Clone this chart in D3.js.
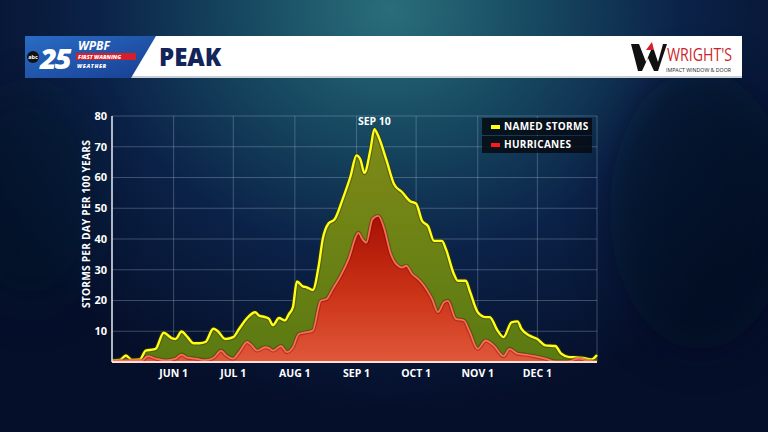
<!DOCTYPE html>
<html>
<head>
<meta charset="utf-8">
<script src="https://cdn.jsdelivr.net/npm/d3@7"></script>
<style>
  html, body { margin: 0; padding: 0; background: #061230; }
  #mydiv { width: 768px; height: 432px; overflow: hidden; }
  text { font-family: "Open Sans", "DejaVu Sans", sans-serif; }
</style>
</head>
<body>
<div id="mydiv"></div>
<script>
// named storms per day per 100 years
var namedDates = ["05-01","05-05","05-08","05-11","05-15","05-18","05-22","05-23","05-27","05-31",
  "06-02","06-05","06-08","06-11","06-14","06-17","06-21","06-23","06-27",
  "07-01","07-04","07-08","07-12","07-14","07-17","07-19","07-21","07-24","07-27","07-29","07-31",
  "08-02","08-05","08-07","08-10","08-13","08-15","08-18","08-21","08-25","08-29",
  "09-01","09-03","09-05","09-08","09-10","09-12","09-16","09-20","09-24","09-28",
  "10-01","10-04","10-07","10-10","10-14","10-16","10-20","10-22","10-26","10-28",
  "11-01","11-05","11-07","11-11","11-14","11-18","11-21","11-23","11-27",
  "12-01","12-05","12-10","12-13","12-17","12-21","12-24","12-28","12-31"];
var namedValues = [0.5,0.7,2.1,0.7,0.8,3.7,4.1,4.3,9.5,7.8,
  7.5,9.9,8.1,6.1,6.1,6.5,10.8,10.2,7.5,
  8.1,10.8,14.3,16.2,15.1,14.6,14.0,12.0,14.3,13.5,15.6,17.8,
  26.2,24.6,24.3,23.4,31.3,39.9,45.1,46.4,52.9,60.4,
  67.2,65.8,61.5,69.0,75.7,73.4,65.8,57.7,55.2,52.3,
  51.5,45.9,44.2,39.4,39.4,36.7,28.6,26.4,26.4,23.1,
  16.2,14.6,14.6,10.2,8.1,12.9,13.2,10.8,8.6,
  7.5,5.4,5.2,2.7,1.6,1.5,1.3,0.8,2.3];

// hurricanes per day per 100 years
var hurDates = ["05-01","05-08","05-16","05-19","05-23","05-28",
  "06-02","06-05","06-08","06-12","06-17","06-21","06-25","06-27",
  "07-01","07-04","07-08","07-10","07-13","07-17","07-19","07-21","07-25","07-28","07-31",
  "08-03","08-07","08-10","08-14","08-17","08-20","08-24","08-28",
  "09-02","09-04","09-06","09-09","09-12","09-15","09-18","09-21","09-24","09-26","09-29",
  "10-02","10-05","10-09","10-12","10-15","10-17","10-21","10-25","10-28",
  "11-01","11-05","11-09","11-14","11-17","11-21","11-25","11-30",
  "12-05","12-10","12-16","12-22","12-26","12-31"];
var hurValues = [0.3,0.5,0.5,1.9,1.1,0.5,
  1.1,2.4,1.4,1.1,0.6,1.3,3.7,2.4,
  1.1,3.2,6.5,5.6,3.7,4.8,4.5,3.7,5.2,3.2,4.8,
  9.1,9.7,10.2,19.9,20.5,23.7,28.0,33.4,
  42.0,39.9,38.8,46.4,47.5,43.2,35.6,31.8,30.7,31.3,28.6,
  27.0,24.8,20.5,16.2,19.4,19.9,14.0,13.5,9.7,
  4.3,7.0,5.4,1.9,4.3,2.7,2.4,1.8,
  1.1,0.2,0.2,1.1,0.4,0.2];

var monthTicks = ["06-01","07-01","08-01","09-01","10-01","11-01","12-01"];
var yTicks = [10,20,30,40,50,60,70,80];
var peakDate = "09-10";
var peakLabel = "SEP 10";
var legendNames = ["NAMED STORMS","HURRICANES"];
var legendColors = ["#ffff1a","#ff1a1a"];

var W = 768, H = 432;
var parse = d3.timeParse("%Y-%m-%d");
function dt(s) { return parse("2023-" + s); }

var svg = d3.select("#mydiv").append("svg")
  .attr("width", W).attr("height", H);
var defs = svg.append("defs");

// background glow
var bg = defs.append("radialGradient").attr("id", "bg")
  .attr("gradientUnits", "userSpaceOnUse")
  .attr("cx", 390).attr("cy", 10).attr("r", 470)
  .attr("gradientTransform", "translate(390,10) scale(1,0.85) translate(-390,-10)");
bg.append("stop").attr("offset", "0%").attr("stop-color", "#2a6e7a");
bg.append("stop").attr("offset", "30%").attr("stop-color", "#174a62");
bg.append("stop").attr("offset", "62%").attr("stop-color", "#0b2248");
bg.append("stop").attr("offset", "100%").attr("stop-color", "#050f2a");
svg.append("rect").attr("width", W).attr("height", H).attr("fill", "url(#bg)");

// dark tree shapes on the sides, blurred
var blur = defs.append("filter").attr("id", "blur")
  .attr("x", "-50%").attr("y", "-50%").attr("width", "200%").attr("height", "200%");
blur.append("feGaussianBlur").attr("stdDeviation", 22);
svg.append("ellipse").attr("cx", 700).attr("cy", 210).attr("rx", 90).attr("ry", 140)
  .attr("fill", "#030a1c").attr("opacity", 0.5).attr("filter", "url(#blur)");
svg.append("ellipse").attr("cx", 30).attr("cy", 200).attr("rx", 70).attr("ry", 110)
  .attr("fill", "#061426").attr("opacity", 0.35).attr("filter", "url(#blur)");

var olive = defs.append("linearGradient").attr("id", "olive")
  .attr("x1", 0).attr("y1", 0).attr("x2", 0).attr("y2", 1);
olive.append("stop").attr("offset", "0%").attr("stop-color", "#7f8a18");
olive.append("stop").attr("offset", "100%").attr("stop-color", "#5a7a12");

var redg = defs.append("linearGradient").attr("id", "redg")
  .attr("x1", 0).attr("y1", 0).attr("x2", 0).attr("y2", 1);
redg.append("stop").attr("offset", "0%").attr("stop-color", "#a81004");
redg.append("stop").attr("offset", "55%").attr("stop-color", "#cc3418");
redg.append("stop").attr("offset", "100%").attr("stop-color", "#e0583a");

var margin = {top: 116, right: 171, bottom: 70, left: 112};
var width = W - margin.left - margin.right,
    height = H - margin.top - margin.bottom;

var x = d3.scaleTime().domain([dt("05-01"), dt("12-31")]).range([0, width]);
var y = d3.scaleLinear().domain([0, 80]).range([height, 0]);

var g = svg.append("g")
  .attr("transform", "translate(" + margin.left + "," + margin.top + ")");

// grid
g.selectAll(".hgrid").data(yTicks).enter().append("line")
  .attr("x1", 0).attr("x2", width)
  .attr("y1", function(d) { return y(d); }).attr("y2", function(d) { return y(d); })
  .attr("stroke", "#9fb4c8").attr("stroke-opacity", 0.35).attr("stroke-width", 1);
g.selectAll(".vgrid").data(monthTicks.concat(["12-31"])).enter().append("line")
  .attr("x1", function(d) { return x(dt(d)); }).attr("x2", function(d) { return x(dt(d)); })
  .attr("y1", 0).attr("y2", height)
  .attr("stroke", "#9fb4c8").attr("stroke-opacity", 0.35).attr("stroke-width", 1);

var named = namedDates.map(function(d, i) { return {date: dt(d), v: namedValues[i]}; });
var hur = hurDates.map(function(d, i) { return {date: dt(d), v: hurValues[i]}; });

var area = d3.area().curve(d3.curveMonotoneX)
  .x(function(d) { return x(d.date); }).y0(height).y1(function(d) { return y(d.v); });
var line = d3.line().curve(d3.curveMonotoneX)
  .x(function(d) { return x(d.date); }).y(function(d) { return y(d.v); });

g.append("path").datum(named).attr("d", area).attr("fill", "url(#olive)");
g.append("path").datum(named).attr("d", line).attr("fill", "none")
  .attr("stroke", "#3a3a00").attr("stroke-opacity", 0.5).attr("stroke-width", 4.5);
g.append("path").datum(named).attr("d", line).attr("fill", "none")
  .attr("stroke", "#ffff1a").attr("stroke-width", 2.4).attr("stroke-linejoin", "round");

g.append("path").datum(hur).attr("d", area).attr("fill", "url(#redg)");
g.append("path").datum(hur).attr("d", line).attr("fill", "none")
  .attr("stroke", "#5a0a00").attr("stroke-opacity", 0.35).attr("stroke-width", 4);
g.append("path").datum(hur).attr("d", line).attr("fill", "none")
  .attr("stroke", "#ff6a5a").attr("stroke-width", 1.8).attr("stroke-linejoin", "round");

// axes lines
g.append("line").attr("x1", 0).attr("x2", 0).attr("y1", 0).attr("y2", height)
  .attr("stroke", "#e8eef5").attr("stroke-width", 1.5);
g.append("line").attr("x1", 0).attr("x2", width).attr("y1", height).attr("y2", height)
  .attr("stroke", "#ffe0d8").attr("stroke-width", 2);

// y labels
g.selectAll(".ylab").data(yTicks).enter().append("text")
  .attr("x", -5).attr("y", function(d) { return y(d); })
  .attr("dy", "0.35em").attr("text-anchor", "end")
  .attr("fill", "#ffffff").attr("font-size", 11).attr("font-weight", 700)
  .text(function(d) { return d; });

// x labels
var fmt = d3.timeFormat("%b %-d");
g.selectAll(".xlab").data(monthTicks).enter().append("text")
  .attr("x", function(d) { return x(dt(d)); }).attr("y", height + 15)
  .attr("text-anchor", "middle")
  .attr("fill", "#ffffff").attr("font-size", 10.5).attr("font-weight", 700)
  .text(function(d) { return fmt(dt(d)).toUpperCase(); });

// y title
svg.append("text")
  .attr("transform", "translate(90," + (margin.top + height / 2 - 15) + ") rotate(-90)")
  .attr("text-anchor", "middle")
  .attr("fill", "#ffffff").attr("font-size", 10.2).attr("font-weight", 700)
  .attr("letter-spacing", 0.2)
  .text("STORMS PER DAY PER 100 YEARS");

// peak label
g.append("text").attr("x", x(dt(peakDate))).attr("y", 9)
  .attr("text-anchor", "middle")
  .attr("fill", "#ffffff").attr("font-size", 10.5).attr("font-weight", 700)
  .text(peakLabel);

// legend
var leg = svg.append("g").attr("transform", "translate(482,118)");
legendNames.forEach(function(name, i) {
  var row = leg.append("g").attr("transform", "translate(0," + (i * 18) + ")");
  row.append("rect").attr("width", 110).attr("height", 17)
    .attr("fill", "#05080f").attr("opacity", 0.82);
  row.append("rect").attr("x", 9).attr("y", 7).attr("width", 9).attr("height", 4)
    .attr("fill", legendColors[i]);
  row.append("text").attr("x", 22).attr("y", 8.5).attr("dy", "0.35em")
    .attr("fill", "#ffffff").attr("font-size", 10).attr("font-weight", 700)
    .attr("letter-spacing", 0.3)
    .text(name);
});

// header bar
svg.append("rect").attr("x", 25).attr("y", 36).attr("width", 717).attr("height", 42)
  .attr("fill", "#ffffff");
svg.append("rect").attr("x", 25).attr("y", 76).attr("width", 717).attr("height", 2)
  .attr("fill", "#c9ced6");
var blue = defs.append("linearGradient").attr("id", "blue")
  .attr("x1", 0).attr("y1", 0).attr("x2", 1).attr("y2", 1);
blue.append("stop").attr("offset", "0%").attr("stop-color", "#2a6cc4");
blue.append("stop").attr("offset", "100%").attr("stop-color", "#173f92");
svg.append("polygon").attr("points", "25,36 156,36 131,78 25,78").attr("fill", "url(#blue)");

// station logo
svg.append("circle").attr("cx", 33).attr("cy", 57).attr("r", 6).attr("fill", "#111");
svg.append("text").attr("x", 33).attr("y", 59).attr("text-anchor", "middle")
  .attr("fill", "#fff").attr("font-size", 5.5).attr("font-weight", 700).text("abc");
svg.append("text").attr("x", 40).attr("y", 69).attr("fill", "#ffffff")
  .attr("font-size", 29).attr("font-weight", 800).attr("font-style", "italic")
  .attr("letter-spacing", -2).text("25");
svg.append("text").attr("x", 78).attr("y", 49.5).attr("fill", "#ffffff")
  .attr("font-size", 12).attr("font-weight", 700).attr("font-style", "italic")
  .text("WPBF");
svg.append("rect").attr("x", 76).attr("y", 53).attr("width", 60).attr("height", 7)
  .attr("fill", "#d21f2b");
svg.append("text").attr("x", 78).attr("y", 58.8).attr("fill", "#ffffff")
  .attr("font-size", 5.5).attr("font-weight", 800).attr("font-style", "italic")
  .text("FIRST WARNING");
svg.append("text").attr("x", 77).attr("y", 67.5).attr("fill", "#ffffff")
  .attr("font-size", 5.5).attr("font-weight", 800).attr("font-style", "italic")
  .attr("letter-spacing", 0.6).text("WEATHER");

svg.append("text").attr("x", 159).attr("y", 66).attr("fill", "#13245a")
  .attr("font-size", 24).attr("font-weight", 800)
  .attr("font-family", "'Liberation Sans Narrow', 'Open Sans', sans-serif")
  .text("PEAK");

// sponsor logo
svg.append("path").attr("d", "M631,44 L639,44 L646,62 L651,50 L654,50 L658,62 L663,44 L667,44 L658,71 L654,71 L648,58 L642,71 L638,71 Z")
  .attr("fill", "#111");
svg.append("path").attr("d", "M646,50 L652,42 L654,50 Z").attr("fill", "#d3202e");
svg.append("text").attr("x", 667).attr("y", 61).attr("fill", "#cc1f2d")
  .attr("font-size", 19).attr("font-weight", 400)
  .attr("font-family", "'Liberation Sans Narrow', sans-serif")
  .attr("textLength", 65).attr("lengthAdjust", "spacingAndGlyphs")
  .text("WRIGHT'S");
svg.append("text").attr("x", 666).attr("y", 71.5).attr("fill", "#222")
  .attr("font-size", 6).attr("font-family", "'Liberation Sans Narrow', sans-serif")
  .attr("textLength", 65).attr("lengthAdjust", "spacingAndGlyphs")
  .text("IMPACT WINDOW & DOOR");
</script>
</body>
</html>
